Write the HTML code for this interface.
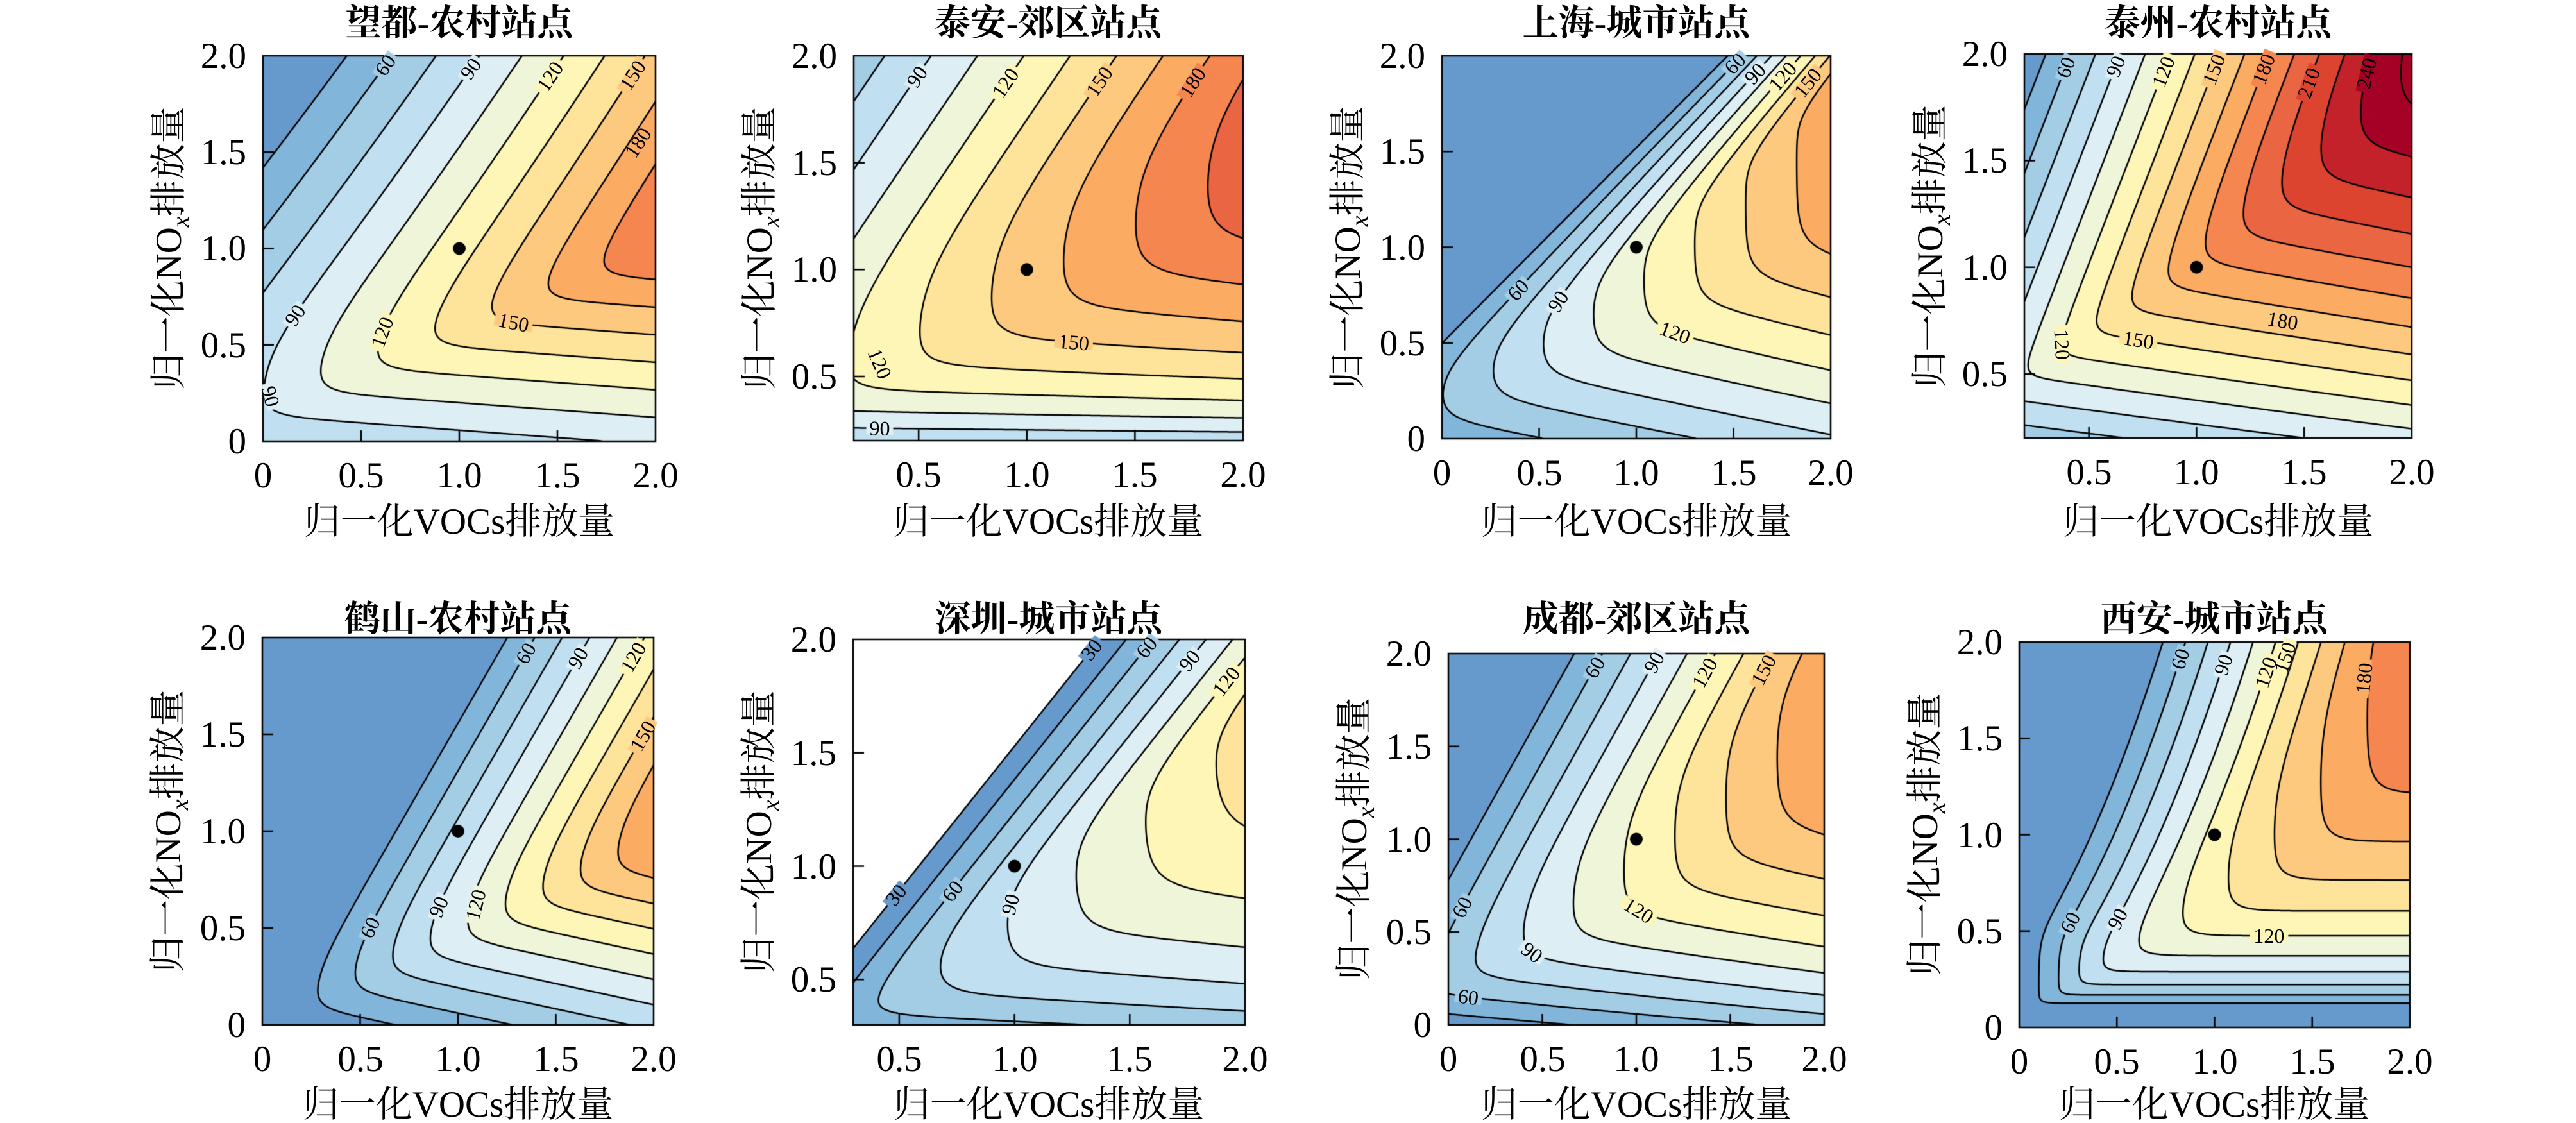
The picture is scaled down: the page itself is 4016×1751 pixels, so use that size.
<!DOCTYPE html>
<html><head><meta charset="utf-8">
<style>
html,body{margin:0;padding:0;background:#fff}
body{width:4016px;height:1751px;position:relative;overflow:hidden}
canvas,svg{position:absolute;left:0;top:0}
text{font-family:"Liberation Serif","Noto Serif CJK SC",serif;fill:#000}
.t{font-size:57px}
.e{font-size:57px;text-anchor:end}
.m{font-size:57px;text-anchor:middle}
.h{font-size:56px;text-anchor:middle;font-weight:bold}
.c{font-size:32px;text-anchor:middle;dominant-baseline:central}
</style></head><body>
<canvas id="cv" width="4016" height="1751"></canvas>
<svg width="4016" height="1751" xmlns="http://www.w3.org/2000/svg">
<text class="h" x="716" y="55">望都-农村站点</text>
<text class="h" x="1634" y="55">泰安-郊区站点</text>
<text class="h" x="2551" y="55">上海-城市站点</text>
<text class="h" x="3458" y="55">泰州-农村站点</text>
<text class="h" x="714" y="984">鹤山-农村站点</text>
<text class="h" x="1635" y="984">深圳-城市站点</text>
<text class="h" x="2551" y="984">成都-郊区站点</text>
<text class="h" x="3452" y="984">西安-城市站点</text>
<text class="m" x="716" y="832">归一化VOCs排放量</text>
<text class="m" x="1634" y="832">归一化VOCs排放量</text>
<text class="m" x="2551" y="832">归一化VOCs排放量</text>
<text class="m" x="3458" y="832">归一化VOCs排放量</text>
<text class="m" x="714" y="1741">归一化VOCs排放量</text>
<text class="m" x="1635" y="1741">归一化VOCs排放量</text>
<text class="m" x="2551" y="1741">归一化VOCs排放量</text>
<text class="m" x="3452" y="1741">归一化VOCs排放量</text>
<text class="m" transform="translate(282,387) rotate(-90)">归一化NO<tspan font-style="italic" font-size="38" dy="12">x</tspan><tspan dy="-12">排放量</tspan></text>
<text class="m" transform="translate(1203,387) rotate(-90)">归一化NO<tspan font-style="italic" font-size="38" dy="12">x</tspan><tspan dy="-12">排放量</tspan></text>
<text class="m" transform="translate(2120,386) rotate(-90)">归一化NO<tspan font-style="italic" font-size="38" dy="12">x</tspan><tspan dy="-12">排放量</tspan></text>
<text class="m" transform="translate(3028,384) rotate(-90)">归一化NO<tspan font-style="italic" font-size="38" dy="12">x</tspan><tspan dy="-12">排放量</tspan></text>
<text class="m" transform="translate(281,1296) rotate(-90)">归一化NO<tspan font-style="italic" font-size="38" dy="12">x</tspan><tspan dy="-12">排放量</tspan></text>
<text class="m" transform="translate(1202,1297) rotate(-90)">归一化NO<tspan font-style="italic" font-size="38" dy="12">x</tspan><tspan dy="-12">排放量</tspan></text>
<text class="m" transform="translate(2130,1308) rotate(-90)">归一化NO<tspan font-style="italic" font-size="38" dy="12">x</tspan><tspan dy="-12">排放量</tspan></text>
<text class="m" transform="translate(3020,1301) rotate(-90)">归一化NO<tspan font-style="italic" font-size="38" dy="12">x</tspan><tspan dy="-12">排放量</tspan></text>
<text class="e" x="384" y="707">0</text><text class="e" x="384" y="557">0.5</text><text class="e" x="384" y="406">1.0</text><text class="e" x="384" y="256">1.5</text><text class="e" x="384" y="106">2.0</text>
<text class="m" x="410" y="760">0</text><text class="m" x="563" y="760">0.5</text><text class="m" x="716" y="760">1.0</text><text class="m" x="869" y="760">1.5</text><text class="m" x="1022" y="760">2.0</text>
<text class="e" x="1305" y="606">0.5</text><text class="e" x="1305" y="439">1.0</text><text class="e" x="1305" y="273">1.5</text><text class="e" x="1305" y="106">2.0</text>
<text class="m" x="1432" y="759">0.5</text><text class="m" x="1601" y="759">1.0</text><text class="m" x="1769" y="759">1.5</text><text class="m" x="1938" y="759">2.0</text>
<text class="e" x="2222" y="703">0</text><text class="e" x="2222" y="554">0.5</text><text class="e" x="2222" y="405">1.0</text><text class="e" x="2222" y="255">1.5</text><text class="e" x="2222" y="106">2.0</text>
<text class="m" x="2248" y="756">0</text><text class="m" x="2400" y="756">0.5</text><text class="m" x="2551" y="756">1.0</text><text class="m" x="2703" y="756">1.5</text><text class="m" x="2854" y="756">2.0</text>
<text class="e" x="3130" y="602">0.5</text><text class="e" x="3130" y="436">1.0</text><text class="e" x="3130" y="269">1.5</text><text class="e" x="3130" y="103">2.0</text>
<text class="m" x="3257" y="755">0.5</text><text class="m" x="3424" y="755">1.0</text><text class="m" x="3592" y="755">1.5</text><text class="m" x="3760" y="755">2.0</text>
<text class="e" x="383" y="1617">0</text><text class="e" x="383" y="1466">0.5</text><text class="e" x="383" y="1315">1.0</text><text class="e" x="383" y="1164">1.5</text><text class="e" x="383" y="1013">2.0</text>
<text class="m" x="409" y="1670">0</text><text class="m" x="562" y="1670">0.5</text><text class="m" x="714" y="1670">1.0</text><text class="m" x="867" y="1670">1.5</text><text class="m" x="1019" y="1670">2.0</text>
<text class="e" x="1304" y="1546">0.5</text><text class="e" x="1304" y="1370">1.0</text><text class="e" x="1304" y="1193">1.5</text><text class="e" x="1304" y="1016">2.0</text>
<text class="m" x="1402" y="1670">0.5</text><text class="m" x="1582" y="1670">1.0</text><text class="m" x="1761" y="1670">1.5</text><text class="m" x="1941" y="1670">2.0</text>
<text class="e" x="2232" y="1617">0</text><text class="e" x="2232" y="1472">0.5</text><text class="e" x="2232" y="1328">1.0</text><text class="e" x="2232" y="1183">1.5</text><text class="e" x="2232" y="1038">2.0</text>
<text class="m" x="2258" y="1670">0</text><text class="m" x="2405" y="1670">0.5</text><text class="m" x="2551" y="1670">1.0</text><text class="m" x="2698" y="1670">1.5</text><text class="m" x="2844" y="1670">2.0</text>
<text class="e" x="3122" y="1621">0</text><text class="e" x="3122" y="1471">0.5</text><text class="e" x="3122" y="1321">1.0</text><text class="e" x="3122" y="1170">1.5</text><text class="e" x="3122" y="1020">2.0</text>
<text class="m" x="3148" y="1674">0</text><text class="m" x="3300" y="1674">0.5</text><text class="m" x="3453" y="1674">1.0</text><text class="m" x="3605" y="1674">1.5</text><text class="m" x="3757" y="1674">2.0</text>
<g id="labs">
<text class="c">60</text><text class="c">90</text><text class="c">120</text><text class="c">150</text><text class="c">180</text><text class="c">90</text><text class="c">120</text><text class="c">90</text><text class="c">150</text>
<text class="c">90</text><text class="c">120</text><text class="c">150</text><text class="c">180</text><text class="c">150</text><text class="c">120</text><text class="c">90</text>
<text class="c">60</text><text class="c">90</text><text class="c">120</text><text class="c">150</text><text class="c">60</text><text class="c">90</text><text class="c">120</text>
<text class="c">60</text><text class="c">90</text><text class="c">120</text><text class="c">150</text><text class="c">180</text><text class="c">210</text><text class="c">240</text><text class="c">120</text><text class="c">150</text><text class="c">180</text>
<text class="c">60</text><text class="c">90</text><text class="c">120</text><text class="c">150</text><text class="c">60</text><text class="c">90</text><text class="c">120</text>
<text class="c">30</text><text class="c">60</text><text class="c">90</text><text class="c">120</text><text class="c">30</text><text class="c">60</text><text class="c">90</text>
<text class="c">60</text><text class="c">90</text><text class="c">120</text><text class="c">150</text><text class="c">60</text><text class="c">90</text><text class="c">120</text><text class="c">60</text>
<text class="c">60</text><text class="c">90</text><text class="c">120</text><text class="c">150</text><text class="c">180</text><text class="c">60</text><text class="c">90</text><text class="c">120</text>
</g>
</svg>
<script>
(function(){
function sm(a){var k=5,s=0,m=Math.min.apply(null,a);for(var i=0;i<a.length;i++)s+=Math.exp(-(a[i]-m)/k);return m-k*Math.log(s);}
var P=[
{L:410,R:1022,T:87,B:688,x0:0,y0:0,lo:45,f:function(V,N){return sm([111+62*V-46.5*N+3*V*V,76+105*N+8*V,91+54*V]);}},
{L:1331,R:1938,T:87,B:687,x0:0.2,y0:0.2,lo:45,f:function(V,N){return sm([145+70*V-47*N,165.5+56.3*Math.log(N)+10*V*N,113+45*V]);}},
{L:2248,R:2854,T:87,B:684,x0:0,y0:0,lo:45,f:function(V,N){return sm([45+(80+60*N)*(V-(N-0.5)/1.02),50+19*V+95*N-15*N*N,61+57*V]);}},
{L:3156,R:3760,T:84,B:683,x0:0.2,y0:0.2,lo:45,f:function(V,N){return sm([106+130*V-50*N,34+150*N-25*N*N+18*V,99+81*V]);}},
{L:409,R:1019,T:994,B:1598,x0:0,y0:0,lo:45,f:function(V,N){return sm([33+107*V-61*N,28+115*N+25*V,25+78*V]);}},
{L:1330,R:1941,T:997,B:1598,x0:0.3,y0:0.3,lo:30,f:function(V,N){return sm([56+130*V-102*N,112+52*Math.log(N)+8*V,42+50*V]);}},
{L:2258,R:2844,T:1019,B:1598,x0:0,y0:0,lo:45,f:function(V,N){return sm([88+100*V-55*N,35+15*V+90*Math.log(1+N/0.5),69+55*V]);}},
{L:3148,R:3757,T:1001,B:1602,x0:0,y0:0,lo:45,f:function(V,N){return sm([112+130*V-115*Math.sqrt(N),164+68.4*Math.log(N+0.05),68+63*V,30+150*V]);}}
];
var COL=["#6699cc","#82b5da","#a3cde5","#c0dff0","#ddeef5","#eef5d9","#fdf6b7","#fee49b","#fdc97f","#fcab63","#f5864f","#ea6541","#dc4430","#c4222b","#a50026"];
function hex(c){return [parseInt(c.substr(1,2),16),parseInt(c.substr(3,2),16),parseInt(c.substr(5,2),16)];}
var RGB=COL.map(hex);
function colIdx(p,f){if(p.lo===30&&f<30)return -1;var i=Math.floor((f-30)/15);if(i<0)i=0;if(i>14)i=14;return i;}
var cv=document.getElementById('cv'),ctx=cv.getContext('2d');
ctx.fillStyle='#fff';ctx.fillRect(0,0,4016,1751);
P.forEach(function(p){
 var W=p.R-p.L,H=p.B-p.T;
 p.fx=function(px,py){var V=p.x0+px/W*(2-p.x0),N=2-py/H*(2-p.y0);return p.f(V,N);};
 var img=ctx.createImageData(W,H),d=img.data;
 for(var y=0;y<H;y++)for(var x=0;x<W;x++){var f=p.fx(x+0.5,y+0.5),i=colIdx(p,f),o=(y*W+x)*4;var c=i<0?[255,255,255]:RGB[i];d[o]=c[0];d[o+1]=c[1];d[o+2]=c[2];d[o+3]=255;}
 ctx.putImageData(img,p.L,p.T);
 var s=2,nx=Math.ceil(W/s),ny=Math.ceil(H/s),G=[];
 for(var j=0;j<=ny;j++){var row=[];for(var i=0;i<=nx;i++)row.push(p.fx(Math.min(i*s,W),Math.min(j*s,H)));G.push(row);}
 ctx.save();ctx.beginPath();ctx.rect(p.L,p.T,W,H);ctx.clip();
 ctx.strokeStyle='#000';ctx.lineWidth=2.5;ctx.lineCap='round';ctx.lineJoin='round';
 ctx.beginPath();
 for(var L=p.lo;L<=270;L+=15){
  for(var j=0;j<ny;j++)for(var i=0;i<nx;i++){
   var a=G[j][i],b=G[j][i+1],c=G[j+1][i+1],dd=G[j+1][i];
   var k=(a>L?8:0)|(b>L?4:0)|(c>L?2:0)|(dd>L?1:0);if(k===0||k===15)continue;
   var X0=p.L+i*s,Y0=p.T+j*s;
   var T_=[X0+s*(L-a)/(b-a),Y0],R_=[X0+s,Y0+s*(L-b)/(c-b)],B_=[X0+s*(L-dd)/(c-dd),Y0+s],Lf=[X0,Y0+s*(L-a)/(dd-a)];
   var segs;
   switch(k){case 1:case 14:segs=[[Lf,B_]];break;case 2:case 13:segs=[[B_,R_]];break;case 3:case 12:segs=[[Lf,R_]];break;case 4:case 11:segs=[[T_,R_]];break;case 6:case 9:segs=[[T_,B_]];break;case 7:case 8:segs=[[T_,Lf]];break;case 5:segs=[[T_,Lf],[B_,R_]];break;case 10:segs=[[T_,R_],[Lf,B_]];break;}
   segs.forEach(function(sg){ctx.moveTo(sg[0][0],sg[0][1]);ctx.lineTo(sg[1][0],sg[1][1]);});
  }
 }
 ctx.stroke();ctx.restore();
 ctx.strokeStyle='#000';ctx.lineWidth=2.5;ctx.strokeRect(p.L,p.T,W,H);
 ctx.beginPath();
 [0.5,1,1.5].forEach(function(v){
  if(v>p.x0){var x=p.L+(v-p.x0)/(2-p.x0)*W;ctx.moveTo(x,p.B);ctx.lineTo(x,p.B-17);}
  if(v>p.y0){var y=p.B-(v-p.y0)/(2-p.y0)*H;ctx.moveTo(p.L,y);ctx.lineTo(p.L+17,y);}
 });
 ctx.stroke();
 var dx=p.L+(1-p.x0)/(2-p.x0)*W,dy=p.B-(1-p.y0)/(2-p.y0)*H;
 ctx.fillStyle='#000';ctx.beginPath();ctx.arc(dx,dy,10,0,Math.PI*2);ctx.fill();
});
var LB=[
[0,0.68,1.91,60],[0,1.12,1.89,90],[0,1.48,1.88,120],[0,1.85,1.92,150],[0,1.91,1.55,180],[0,0.14,0.67,90],[0,0.52,0.61,120],[0,0.09,0.27,90],[0,1.27,0.55,150],
[1,0.51,1.89,90],[1,0.92,1.86,120],[1,1.32,1.89,150],[1,1.73,1.9,180],[1,1.22,0.69,150],[1,0.32,0.56,120],[1,0.32,0.24,90],
[2,1.55,1.95,60],[2,1.64,1.88,90],[2,1.79,1.86,120],[2,1.92,1.83,150],[2,0.41,0.76,60],[2,0.58,0.73,90],[2,1.21,0.58,120],
[3,0.46,1.91,60],[3,0.73,1.9,90],[3,0.94,1.88,120],[3,1.15,1.9,150],[3,1.36,1.91,180],[3,1.53,1.86,210],[3,1.84,1.9,240],[3,0.3,0.66,120],[3,0.73,0.66,150],[3,1.4,0.75,180],
[4,1.36,1.91,60],[4,1.62,1.89,90],[4,1.91,1.89,120],[4,1.93,1.5,150],[4,0.48,0.54,60],[4,0.82,0.65,90],[4,1.09,0.62,120],
[5,1.34,1.95,30],[5,1.64,1.91,60],[5,1.78,1.89,90],[5,1.9,1.83,120],[5,0.49,0.87,30],[5,0.73,0.89,60],[5,0.96,0.84,90],
[6,0.84,1.89,60],[6,1.17,1.91,90],[6,1.41,1.87,120],[6,1.72,1.89,150],[6,0.06,0.64,60],[6,0.49,0.43,90],[6,1.03,0.64,120],[6,0.11,0.175,60],
[7,0.8,1.92,60],[7,0.99,1.9,90],[7,1.15,1.88,120],[7,1.36,1.92,150],[7,1.65,1.84,180],[7,0.25,0.55,60],[7,0.53,0.55,90],[7,1.28,0.56,120]];
var els=document.getElementById('labs').getElementsByTagName('text');
LB.forEach(function(l,idx){
 var p=P[l[0]],W=p.R-p.L,H=p.B-p.T,Lv=l[3];
 var px=(l[1]-p.x0)/(2-p.x0)*W,py=(2-l[2])/(2-p.y0)*H,ox=px,oy=py;
 function g(x,y){return [(p.fx(x+1,y)-p.fx(x-1,y))/2,(p.fx(x,y+1)-p.fx(x,y-1))/2];}
 for(var it=0;it<8;it++){var f=p.fx(px,py)-Lv,gr=g(px,py),n2=gr[0]*gr[0]+gr[1]*gr[1];if(n2<1e-6)break;var nx=px-f*gr[0]/n2,ny=py-f*gr[1]/n2;if(Math.hypot(nx-ox,ny-oy)>40)break;px=Math.min(Math.max(nx,12),W-12);py=Math.min(Math.max(ny,12),H-12);}
 var gr=g(px,py),ang=Math.atan2(gr[0],-gr[1])*180/Math.PI;
 if(ang>90)ang-=180;if(ang<-90)ang+=180;
 var X=p.L+px,Y=p.T+py,fv=p.fx(px+gr[0]*3,py+gr[1]*3),ci=colIdx(p,fv);
 ctx.save();ctx.translate(X,Y);ctx.rotate(ang*Math.PI/180);ctx.fillStyle=ci<0?'#fff':COL[ci];
 var tw=Lv>=100?54:36;ctx.fillRect(-tw/2-3,-10,tw+6,20);ctx.restore();
 var e=els[idx];if(e)e.setAttribute('transform','translate('+X.toFixed(1)+','+Y.toFixed(1)+') rotate('+ang.toFixed(1)+')');
});
})();
</script>
</body></html>
